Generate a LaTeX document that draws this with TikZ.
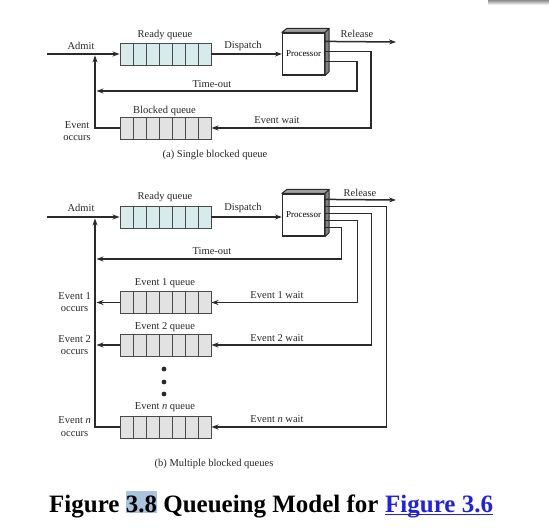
\documentclass[tikz,border=0pt]{standalone}
\usepackage{fontspec}
\setmainfont{Liberation Serif}
\usetikzlibrary{arrows.meta,calc}
\definecolor{ln}{HTML}{2A2A2A}
\definecolor{rqfill}{HTML}{D8EBEB}
\definecolor{bqfill}{HTML}{E2E2E2}
\definecolor{hl}{HTML}{A9C5DD}
\definecolor{linkblue}{HTML}{2020E0}
\definecolor{topface}{HTML}{A0A0A0}
\definecolor{sideface}{HTML}{808080}
\begin{document}
\begin{tikzpicture}[x=1pt,y=-1pt,
 line/.style={draw=ln, line width=1.5pt},
 arr/.style={line, -{Stealth[length=7pt,width=5pt]}},
 queue/.style={draw=ln!85, line width=0.9pt, minimum width=91pt, minimum height=22pt, inner sep=0pt,
   path picture={\foreach \k in {1,...,6}{\draw[ln!85, line width=0.7pt]
     ($(path picture bounding box.south west)!\k/7!(path picture bounding box.south east)$) --
     ($(path picture bounding box.north west)!\k/7!(path picture bounding box.north east)$);}}},
 ready/.style={queue, fill=rqfill},
 blocked/.style={queue, fill=bqfill},
 procbox/.style={draw=ln, line width=1.2pt, fill=white, minimum width=42pt, minimum height=42pt, inner sep=0pt, font=\fontsize{9}{10}\selectfont},
 face/.style={draw=ln, line width=1pt, line join=round},
 lbl/.style={font=\fontsize{10.5}{12.5}\selectfont, text=black!85, inner sep=0pt},
 occ/.style={lbl, align=center, anchor=east},
 capfont/.style={font=\fontsize{25}{30}\selectfont\bfseries, inner sep=0pt, anchor=base west}
]
\useasboundingbox (0,0) rectangle (549,531);
\shade[top color=black!45, bottom color=white] (488,0) rectangle (549,5);

% ================= (a) =================
\node[ready] (rqA) at (165.5,54) {};
\node[blocked] (bqA) at (165.5,128) {};
\node[procbox] (procA) at (303.5,54) {Processor};
\filldraw[face, fill=topface] (procA.north west) -- ++(5,-4) -- ($(procA.north east)+(4,-4)$) -- (procA.north east) -- cycle;
\filldraw[face, fill=sideface] (procA.north east) -- ++(4,-4) -- ($(procA.south east)+(4,-4)$) -- (procA.south east) -- cycle;
\coordinate (oA1) at ($(procA.north east)+(0,9)$);
\coordinate (oA2) at ($(procA.north east)+(0,19)$);
\coordinate (oA3) at ($(procA.north east)+(0,29)$);
\coordinate (admA) at (47,54);
\coordinate (relA) at (396,42);
\coordinate (toA) at (96.5,91);
\coordinate (joinA) at (95,55.4);

\draw[arr] (admA) -- (rqA.west);
\draw[arr] (rqA.east) -- (rqA.east -| procA.west);
\draw[arr] (oA1) -- (relA);
\draw[arr] (oA2) -- ++(46,0) |- (bqA.east);
\draw[arr] (oA3) -- ++(32,0) |- (toA);
\draw[arr] (bqA.west) -| (joinA);

\node[lbl] (lAdmA) at (81,46) {Admit};
\node[lbl] (lRqA) at (165,35) {Ready queue};
\node[lbl] (lDisA) at (243,46) {Dispatch};
\node[lbl] (lRelA) at (357,34) {Release};
\node[lbl] (lToA) at (212,84) {Time-out};
\node[lbl] (lBqA) at (164.5,111) {Blocked queue};
\node[lbl] (lEwA) at (277,120) {Event wait};
\node[occ] (lEoA) at (91,131) {Event\\occurs};
\node[lbl] (capA) at (215,155) {(a) Single blocked queue};

% ================= (b) =================
\node[ready] (rqB) at (165.5,217) {};
\node[blocked] (eq1) at (165.5,302.5) {};
\node[blocked] (eq2) at (165.5,345) {};
\node[blocked] (eqn) at (165.5,427) {};
\node[procbox] (procB) at (303.5,215) {Processor};
\filldraw[face, fill=topface] (procB.north west) -- ++(5,-4) -- ($(procB.north east)+(4,-4)$) -- (procB.north east) -- cycle;
\filldraw[face, fill=sideface] (procB.north east) -- ++(4,-4) -- ($(procB.south east)+(4,-4)$) -- (procB.south east) -- cycle;
\coordinate (oB1) at ($(procB.north east)+(0,6)$);
\coordinate (oB2) at ($(procB.north east)+(0,13)$);
\coordinate (oB3) at ($(procB.north east)+(0,20)$);
\coordinate (oB4) at ($(procB.north east)+(0,27)$);
\coordinate (oB5) at ($(procB.north east)+(0,34)$);
\coordinate (admB) at (47,217);
\coordinate (relB) at (396,200);
\coordinate (toB) at (96.5,259);
\coordinate (e1B) at (96.5,302.5);
\coordinate (e2B) at (96.5,345);
\coordinate (joinB) at (95,218.4);

\draw[arr] (admB) -- (rqB.west);
\draw[arr] (rqB.east) -- (rqB.east -| procB.west);
\draw[arr] (oB1) -- (relB);
\draw[arr] (oB2) -- ++(61.5,0) |- (eqn.east);
\draw[arr] (oB3) -- ++(46.5,0) |- (eq2.east);
\draw[arr] (oB4) -- ++(32.5,0) |- (eq1.east);
\draw[arr] (oB5) -- ++(16.5,0) |- (toB);
\draw[arr] (eqn.west) -| (joinB);
\draw[arr] (eq1.west) -- (e1B);
\draw[arr] (eq2.west) -- (e2B);

\fill[ln] (164,369) circle (2.4);
\fill[ln] (164,382) circle (2.4);
\fill[ln] (164,394) circle (2.4);

\node[lbl] (lAdmB) at (81,208) {Admit};
\node[lbl] (lRqB) at (165,197) {Ready queue};
\node[lbl] (lDisB) at (243,208) {Dispatch};
\node[lbl] (lRelB) at (360,193) {Release};
\node[lbl] (lToB) at (212,251.5) {Time-out};
\node[lbl] (lQ1) at (165,283) {Event 1 queue};
\node[lbl] (lW1) at (277,295) {Event 1 wait};
\node[occ] (lO1) at (91,302) {Event 1\\occurs};
\node[lbl] (lQ2) at (165,327) {Event 2 queue};
\node[lbl] (lW2) at (277,338) {Event 2 wait};
\node[occ] (lO2) at (91,345) {Event 2\\occurs};
\node[lbl] (lQn) at (165,407) {Event \textit{n} queue};
\node[lbl] (lWn) at (277,419) {Event \textit{n} wait};
\node[occ] (lOn) at (91,426.5) {Event \textit{n}\\occurs};
\node[lbl] (capB) at (214,464) {(b) Multiple blocked queues};

% ================= caption =================
\node[capfont] (cap) at (49,512) {Figure {\setlength{\fboxsep}{0pt}\colorbox{hl}{\rule[-1pt]{0pt}{22pt}3.8}} Queueing Model for};
\node[capfont, text=linkblue] (link) at ($(cap.base east)+(6.25,0)$) {Figure 3.6};
\draw[linkblue, line width=1.4pt] ($(link.base west)+(0,2.5)$) -- ($(link.base east)+(0,2.5)$);
\end{tikzpicture}
\end{document}
